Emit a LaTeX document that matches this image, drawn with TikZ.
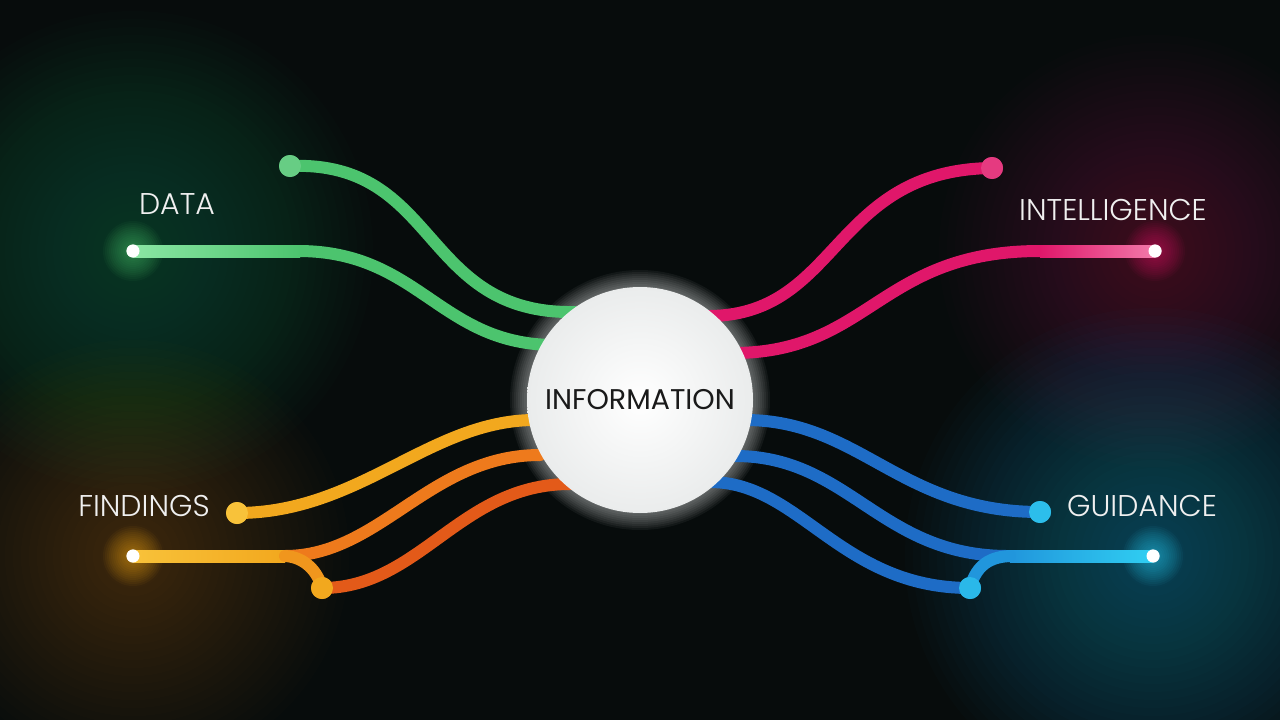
\documentclass[tikz,border=0pt]{standalone}
\usepackage{fontspec}
\newfontfamily\lbl{Poppins Light}
\newfontfamily\lblreg{Poppins}
\definecolor{bg}{HTML}{070C0C}
\definecolor{wgreen}{HTML}{4CC46E}
\definecolor{wgreenL}{HTML}{8BE6A4}
\definecolor{wpink}{HTML}{E0176A}
\definecolor{wpinkL}{HTML}{F27AAA}
\definecolor{wblue}{HTML}{1E6CC6}
\definecolor{wblueM}{HTML}{2196DC}
\definecolor{wcyan}{HTML}{30CFF2}
\definecolor{wyel}{HTML}{F2A81E}
\definecolor{wyelL}{HTML}{F8C23A}
\definecolor{worange}{HTML}{EE7A1C}
\definecolor{wred}{HTML}{E35A19}
\definecolor{gGlow}{HTML}{1FA060}
\definecolor{pGlow}{HTML}{C0105A}
\definecolor{cGlow}{HTML}{1598C0}
\definecolor{oGlow}{HTML}{C08010}
\definecolor{txtdark}{HTML}{1A1A1A}
\definecolor{circEdge}{HTML}{EAECEC}
\tikzset{
  wire/.style={line width=12pt, line cap=round},
  enddot/.style={circle, minimum size=22pt, inner sep=0pt},
  brightdot/.style={circle, fill=white, minimum size=13pt, inner sep=0pt},
  labeltext/.style={font=\lbl\fontsize{30}{32}\selectfont, text={rgb,255:red,240;green,240;blue,240}, inner sep=0pt},
}
\begin{document}
\begin{tikzpicture}[x=1pt,y=-1pt]
\useasboundingbox (0,0) rectangle (1280,720);
\fill[bg] (0,0) rectangle (1280,720);
% soft corner glows
\foreach \r in {8,16,...,240} \fill[gGlow,opacity=0.015] (133,251) circle (\r);
\foreach \r in {8,16,...,220} \fill[pGlow,opacity=0.015] (1155,251) circle (\r);
\foreach \r in {8,16,...,250} \fill[cGlow,opacity=0.018] (1153,556) circle (\r);
\foreach \r in {8,16,...,220} \fill[oGlow,opacity=0.016] (133,556) circle (\r);
% circle halo
\foreach \r in {114,116,...,130} \fill[white,opacity=0.05] (640,400) circle (\r);
% bright dot halos
\foreach \r in {2,4,...,30} \fill[wgreen,opacity=0.05] (133,251) circle (\r);
\foreach \r in {2,4,...,30} \fill[wpink,opacity=0.05] (1155,251) circle (\r);
\foreach \r in {2,4,...,30} \fill[wcyan,opacity=0.05] (1153,556) circle (\r);
\foreach \r in {2,4,...,30} \fill[wyel,opacity=0.05] (133,556) circle (\r);

% end points on the central circle
\coordinate (ciA) at (575,312);
\coordinate (ciB) at (555,345);
\coordinate (ciC) at (705,316);
\coordinate (ciD) at (735,353);
\coordinate (ciE) at (745,420);
\coordinate (ciF) at (735,456);
\coordinate (ciG) at (710,482);
\coordinate (ciH) at (535,420);
\coordinate (ciI) at (540,455);
\coordinate (ciJ) at (570,484);
\coordinate (jF) at (1010,556);
\coordinate (jI) at (285,556);

% outer end nodes
\node[enddot, fill=wgreen!85!white] (gA) at (290,166) {};
\node[brightdot] (gB) at (133,251) {};
\node[enddot, fill=wpink!85!white] (pC) at (992,168) {};
\node[brightdot] (pD) at (1155,251) {};
\node[enddot, fill=wcyan!70!wblueM] (bE) at (1040,512) {};
\node[brightdot] (bF) at (1153,556) {};
\node[enddot, fill=wcyan!60!wblueM] (bG) at (970,588) {};
\node[enddot, fill=wyelL] (oH) at (237,513) {};
\node[brightdot] (oI) at (133,556) {};
\node[enddot, fill=wyel] (oJ) at (322,588) {};

% green
\draw[wire,wgreen] (gA.center) .. controls (440,160) and (420,315) .. (ciA);
\draw[wire,wgreen] (gB.center) -- (300,251) .. controls (420,252) and (440,345) .. (ciB);
\shade[left color=wgreenL, right color=wgreen] (133,245) rectangle (300,257);
% pink
\draw[wire,wpink] (ciC) .. controls (840,318) and (830,170) .. (pC.center);
\draw[wire,wpink] (ciD) .. controls (870,352) and (880,251) .. (1040,251) -- (pD.center);
\shade[left color=wpink, right color=wpinkL] (1040,245) rectangle (1155,257);
% blue
\draw[wire,wblue] (ciE) .. controls (860,420) and (900,512) .. (bE.center);
\draw[wire,wblue] (ciF) .. controls (850,456) and (880,557) .. (jF) -- (bF.center);
\shade[left color=wblueM, right color=wcyan] (1010,550) rectangle (1153,562);
\draw[wire,wblue] (ciG) .. controls (800,482) and (840,588) .. (bG.center);
\draw[wire,wblueM] (bG.center) .. controls (975,570) and (985,557) .. (jF);
% orange
\draw[wire,wyel] (ciH) .. controls (430,420) and (360,513) .. (oH.center);
\draw[wire,worange] (ciI) .. controls (430,455) and (380,556) .. (jI) -- (oI.center);
\shade[left color=wyelL, right color=wyel] (133,550) rectangle (285,562);
\draw[wire,wred] (ciJ) .. controls (460,484) and (420,588) .. (oJ.center);
\draw[wire,wyel!60!worange] (oJ.center) .. controls (318,572) and (305,557) .. (jI);

% redraw end nodes on top
\node[enddot, fill=wgreen!85!white] at (gA) {};
\node[enddot, fill=wpink!85!white] at (pC) {};
\node[enddot, fill=wcyan!70!wblueM] at (bE) {};
\node[enddot, fill=wcyan!60!wblueM] at (bG) {};
\node[enddot, fill=wyelL] at (oH) {};
\node[enddot, fill=wyel] at (oJ) {};
\node[brightdot] at (gB) {};
\node[brightdot] at (pD) {};
\node[brightdot] at (bF) {};
\node[brightdot] at (oI) {};

% central circle
\node[circle, minimum size=226pt, inner sep=0pt, inner color=white, outer color=circEdge,
      font=\lblreg\fontsize{28.5}{30}\selectfont, text=txtdark] (info) at (640,400) {INFORMATION};

% labels
\node[labeltext] (tData) at (177,204) {DATA};
\node[labeltext] (tIntel) at (1113,210) {INTELLIGENCE};
\node[labeltext] (tFind) at (144,506) {FINDINGS};
\node[labeltext] (tGuid) at (1142,506) {GUIDANCE};
\end{tikzpicture}
\end{document}
